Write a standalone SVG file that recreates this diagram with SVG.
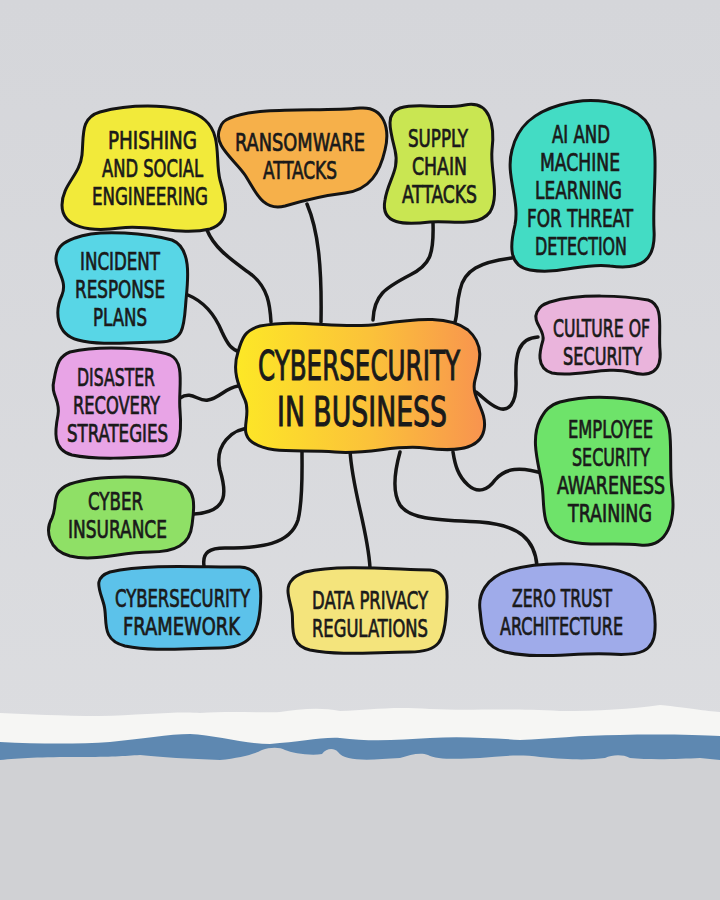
<svg xmlns="http://www.w3.org/2000/svg" width="720" height="900" viewBox="0 0 720 900">
<defs>
<linearGradient id="cg" x1="0" y1="0" x2="1" y2="0">
<stop offset="0" stop-color="#fde826"/>
<stop offset="0.55" stop-color="#fbc13a"/>
<stop offset="1" stop-color="#f8934f"/>
</linearGradient>
<linearGradient id="bg" x1="0" y1="0" x2="0" y2="1">
<stop offset="0" stop-color="#d5d6da"/>
<stop offset="1" stop-color="#dddee1"/>
</linearGradient>
<style>
.blob{stroke:#141414;stroke-width:3;stroke-linejoin:round}
.con{fill:none;stroke:#141414;stroke-width:3.5;stroke-linecap:round}
text{font-family:"Liberation Sans Narrow","DejaVu Sans Condensed","Liberation Sans",sans-serif;font-size:24px;fill:#1a1a1a;stroke:#1a1a1a;stroke-width:0.7;text-anchor:middle}
.big{font-size:40px;stroke-width:1}
</style>
</defs>
<rect x="0" y="0" width="720" height="900" fill="url(#bg)"/>
<g id="tear">
<path d="M0,730 L0,713 C30,714 60,716 100,716 C140,715 180,711 200,713 C230,711 260,713 280,712 C300,709 320,707 340,711 C370,710 390,706 430,709 C470,711 500,708 560,711 C600,711 630,709 660,705 C690,708 705,711 720,712 L720,780 L0,780 Z" fill="#f6f6f4"/>
<path d="M0,742 C40,744 80,744 110,742 C140,739 170,734 190,734 C215,735 245,744 270,744 C300,742 320,737 340,738 C370,742 400,740 430,738 C460,736 490,738 520,740 C550,739 580,735 620,735 C660,734 700,735 720,736 L720,790 L0,790 Z" fill="#5e88b1"/>
<path d="M0,760 C20,758 40,757 80,757 C110,757 125,756 140,755 C160,757 190,759 220,760 C240,758 255,754 262,750 C270,747 280,747 285,750 C292,753 310,756 322,754 C326,749 333,747 338,752 C345,762 370,760 400,758 C410,755 420,752 428,755 C436,760 460,759 480,758 C500,756 520,754 540,757 C570,760 590,760 605,758 C612,755 622,754 630,758 C650,760 680,759 700,758 L720,760 L720,900 L0,900 Z" fill="#d0d1d4"/>
</g>
<g id="connectors">
<path class="con" d="M207,230 C215,250 235,262 252,275 C268,288 270,305 271,322"/>
<path class="con" d="M307,204 C318,230 322,265 321,322"/>
<path class="con" d="M433,223 C434,255 430,265 410,275 C385,288 374,295 373,320"/>
<path class="con" d="M512,258 C480,262 464,270 460,290 C456,305 458,312 455,322"/>
<path class="con" d="M188,295 C205,302 215,315 222,332 C228,345 232,350 240,352"/>
<path class="con" d="M180,398 C192,390 198,402 208,400 C220,398 225,388 238,386"/>
<path class="con" d="M538,337 C518,338 515,355 516,380 C517,405 508,412 498,408 C488,404 482,396 476,392"/>
<path class="con" d="M545,474 C520,466 505,468 495,480 C488,490 478,494 468,485 C458,476 455,465 453,452"/>
<path class="con" d="M194,514 C230,512 226,490 220,470 C214,445 232,428 252,428"/>
<path class="con" d="M204,566 C202,552 210,548 225,548 C260,548 290,545 298,520 C303,500 302,470 302,452"/>
<path class="con" d="M370,568 C368,530 352,490 350,450"/>
<path class="con" d="M537,566 C535,540 520,525 480,522 C440,520 410,520 400,505 C392,492 395,470 400,452"/>
</g>
<g id="phishing">
<path class="blob" fill="#f2ea3a" d="M100,112 C130,104 185,102 205,120 C222,135 215,160 220,180 C226,200 232,222 210,229 C180,236 150,224 120,228 C90,232 62,228 62,205 C62,185 80,175 82,155 C84,135 80,118 100,112 Z"/>
<text x="152.5" y="149" textLength="89" lengthAdjust="spacingAndGlyphs">PHISHING</text>
<text x="152.5" y="177" textLength="101" lengthAdjust="spacingAndGlyphs">AND SOCIAL</text>
<text x="150" y="205" textLength="116" lengthAdjust="spacingAndGlyphs">ENGINEERING</text>
</g>
<g id="ransomware">
<path class="blob" fill="#f6b04a" d="M230,118 C260,106 320,112 360,108 C385,106 390,130 385,150 C380,172 370,190 345,193 C320,196 305,200 285,206 C262,212 255,190 245,175 C235,160 212,145 220,128 C222,122 225,120 230,118 Z"/>
<text x="300" y="151" textLength="130" lengthAdjust="spacingAndGlyphs">RANSOMWARE</text>
<text x="300" y="179" textLength="74" lengthAdjust="spacingAndGlyphs">ATTACKS</text>
</g>
<g id="supply">
<path class="blob" fill="#c9e652" d="M400,108 C420,102 440,110 465,105 C490,100 495,125 492,150 C490,170 500,195 490,212 C478,228 450,220 430,222 C405,225 380,225 385,200 C388,180 400,170 395,150 C390,130 385,113 400,108 Z"/>
<text x="438" y="147" textLength="60" lengthAdjust="spacingAndGlyphs">SUPPLY</text>
<text x="439.5" y="175" textLength="55" lengthAdjust="spacingAndGlyphs">CHAIN</text>
<text x="439.5" y="203" textLength="75" lengthAdjust="spacingAndGlyphs">ATTACKS</text>
</g>
<g id="ai">
<path class="blob" fill="#43dcc4" d="M560,105 C590,96 625,100 645,120 C662,140 652,190 654,230 C656,262 640,270 610,266 C585,262 560,275 530,270 C508,266 510,245 515,225 C520,200 505,175 512,150 C518,125 535,112 560,105 Z"/>
<text x="581" y="143" textLength="58" lengthAdjust="spacingAndGlyphs">AI AND</text>
<text x="580" y="171" textLength="80" lengthAdjust="spacingAndGlyphs">MACHINE</text>
<text x="578.5" y="199" textLength="87" lengthAdjust="spacingAndGlyphs">LEARNING</text>
<text x="580" y="227" textLength="106" lengthAdjust="spacingAndGlyphs">FOR THREAT</text>
<text x="581" y="255" textLength="92" lengthAdjust="spacingAndGlyphs">DETECTION</text>
</g>
<g id="incident">
<path class="blob" fill="#58d6e6" d="M75,238 C100,228 150,234 172,240 C192,248 188,280 186,300 C184,325 185,342 160,342 C130,342 100,346 78,340 C55,334 55,310 62,295 C68,280 55,270 56,258 C57,245 65,242 75,238 Z"/>
<text x="120" y="270" textLength="80" lengthAdjust="spacingAndGlyphs">INCIDENT</text>
<text x="120" y="298" textLength="90" lengthAdjust="spacingAndGlyphs">RESPONSE</text>
<text x="120" y="326" textLength="54" lengthAdjust="spacingAndGlyphs">PLANS</text>
</g>
<g id="disaster">
<path class="blob" fill="#e8a4e6" d="M70,352 C100,345 150,348 170,355 C186,362 178,390 180,410 C182,435 180,455 160,456 C130,458 95,460 72,455 C52,450 55,430 58,415 C61,400 50,395 54,380 C57,362 60,356 70,352 Z"/>
<text x="116" y="386" textLength="78" lengthAdjust="spacingAndGlyphs">DISASTER</text>
<text x="116.5" y="414" textLength="87" lengthAdjust="spacingAndGlyphs">RECOVERY</text>
<text x="117.5" y="442" textLength="101" lengthAdjust="spacingAndGlyphs">STRATEGIES</text>
</g>
<g id="culture">
<path class="blob" fill="#eab4dc" d="M550,302 C580,293 625,296 648,300 C665,305 658,330 660,350 C662,372 650,378 630,372 C605,366 575,378 552,373 C535,368 540,350 543,340 C545,330 532,322 537,312 C540,305 545,304 550,302 Z"/>
<text x="601.5" y="337" textLength="97" lengthAdjust="spacingAndGlyphs">CULTURE OF</text>
<text x="602.5" y="365" textLength="79" lengthAdjust="spacingAndGlyphs">SECURITY</text>
</g>
<g id="center">
<path class="blob" fill="url(#cg)" d="M260,326 C300,318 340,330 380,324 C420,318 450,316 468,330 C485,345 480,362 475,380 C470,398 488,410 484,430 C480,450 455,452 425,448 C395,444 370,455 335,452 C300,449 270,455 252,442 C238,432 252,415 245,400 C238,385 232,370 238,352 C242,338 245,330 260,326 Z"/>
<text class="big" x="359" y="380" textLength="202" lengthAdjust="spacingAndGlyphs">CYBERSECURITY</text>
<text class="big" x="362" y="426" textLength="170" lengthAdjust="spacingAndGlyphs">IN BUSINESS</text>
</g>
<g id="employee">
<path class="blob" fill="#6ee36a" d="M560,402 C590,394 640,396 660,410 C676,422 668,460 672,490 C676,520 668,548 640,545 C612,542 580,548 560,538 C540,528 545,505 542,485 C539,465 530,440 540,420 C545,410 550,405 560,402 Z"/>
<text x="610.5" y="438" textLength="85" lengthAdjust="spacingAndGlyphs">EMPLOYEE</text>
<text x="611" y="466" textLength="78" lengthAdjust="spacingAndGlyphs">SECURITY</text>
<text x="611" y="494" textLength="108" lengthAdjust="spacingAndGlyphs">AWARENESS</text>
<text x="610" y="522" textLength="84" lengthAdjust="spacingAndGlyphs">TRAINING</text>
</g>
<g id="insurance">
<path class="blob" fill="#8fe066" d="M70,484 C100,474 150,476 178,482 C198,488 194,510 192,525 C190,545 175,552 150,552 C120,552 95,562 70,556 C48,550 45,530 52,518 C58,505 50,492 70,484 Z"/>
<text x="115.5" y="510" textLength="55" lengthAdjust="spacingAndGlyphs">CYBER</text>
<text x="117.5" y="538" textLength="99" lengthAdjust="spacingAndGlyphs">INSURANCE</text>
</g>
<g id="framework">
<path class="blob" fill="#5cc2ea" d="M110,572 C150,563 210,568 240,567 C262,568 262,590 260,610 C258,632 250,648 220,648 C185,648 155,652 125,646 C100,640 108,620 104,605 C100,590 92,578 110,572 Z"/>
<text x="182.5" y="607" textLength="135" lengthAdjust="spacingAndGlyphs">CYBERSECURITY</text>
<text x="181.5" y="635" textLength="117" lengthAdjust="spacingAndGlyphs">FRAMEWORK</text>
</g>
<g id="dataprivacy">
<path class="blob" fill="#f4e47c" d="M305,572 C340,564 400,570 430,570 C450,572 448,595 446,615 C444,640 440,652 410,652 C375,652 340,656 310,650 C288,645 294,625 292,612 C290,600 284,588 292,580 C296,575 300,574 305,572 Z"/>
<text x="370" y="609" textLength="116" lengthAdjust="spacingAndGlyphs">DATA PRIVACY</text>
<text x="370" y="637" textLength="116" lengthAdjust="spacingAndGlyphs">REGULATIONS</text>
</g>
<g id="zerotrust">
<path class="blob" fill="#9fabea" d="M510,570 C545,560 600,562 630,575 C652,586 656,610 655,630 C654,652 640,656 610,654 C575,652 540,660 505,652 C480,646 482,625 480,610 C478,595 485,578 510,570 Z"/>
<text x="562" y="607" textLength="100" lengthAdjust="spacingAndGlyphs">ZERO TRUST</text>
<text x="561.5" y="635" textLength="123" lengthAdjust="spacingAndGlyphs">ARCHITECTURE</text>
</g>
</svg>
